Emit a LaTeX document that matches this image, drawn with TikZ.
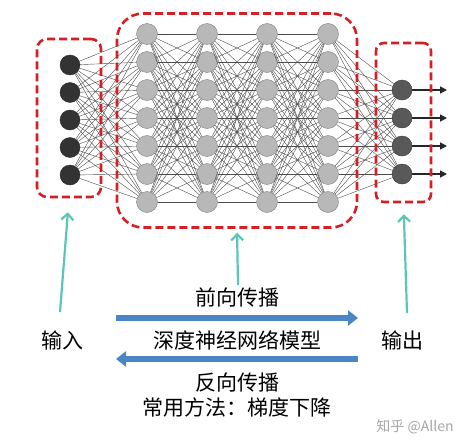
\documentclass[tikz,border=0pt]{standalone}
\usepackage{fontspec}
\newfontfamily\cjk{Noto Sans CJK SC}
\usetikzlibrary{arrows.meta}
\definecolor{boxred}{RGB}{212,32,36}
\definecolor{pointteal}{RGB}{92,198,182}
\definecolor{flowblue}{RGB}{74,134,198}
\begin{document}
\begin{tikzpicture}[x=1pt,y=-1pt,
  inneuron/.style={circle,draw=black!85,fill=black!80,minimum size=20pt,inner sep=0pt},
  hidneuron/.style={circle,draw=black!50,fill=black!28,minimum size=21pt,inner sep=0pt},
  outneuron/.style={circle,draw=black!80,fill=black!65,minimum size=20pt,inner sep=0pt},
  link/.style={black!70,line width=0.4pt},
  group/.style={draw=boxred,line width=2.6pt,dash pattern=on 8pt off 4pt,inner sep=0pt},
  pointer/.style={pointteal,line width=2.2pt,-{Straight Barb[length=6pt,width=12pt]}},
  flow/.style={flowblue,line width=6.5pt,-{Triangle[length=10pt,width=15pt]}},
  outflow/.style={black!85,line width=1.4pt,-{Triangle[length=7pt,width=7pt]}},
  label/.style={font=\cjk\fontsize{21}{25}\selectfont,inner sep=0pt}
]
\useasboundingbox (0,0) rectangle (465,447);
% neurons
\foreach \i in {1,...,5}
  \node[inneuron] (in\i) at (70,{65+27.5*(\i-1)}) {};
\foreach \l/\x in {A/147,B/207,C/267,D/328}
  \foreach \i in {1,...,7}
    \node[hidneuron] (h\l\i) at (\x,{34+28*(\i-1)}) {};
\foreach \i in {1,...,4}
  \node[outneuron] (out\i) at (402,{90+28*(\i-1)}) {};
% links
\foreach \i in {1,...,5}
  \foreach \j in {1,...,7}
    \draw[link] (in\i) -- (hA\j);
\foreach \a/\b in {A/B,B/C,C/D}
  \foreach \i in {1,...,7}
    \foreach \j in {1,...,7}
      \draw[link] (h\a\i) -- (h\b\j);
\foreach \i in {1,...,7}
  \foreach \j in {1,...,4}
    \draw[link] (hD\i) -- (out\j);
% outputs
\foreach \i in {1,...,4} {
  \coordinate (end\i) at (447,{90+28*(\i-1)});
  \draw[outflow] (out\i) -- (end\i);
}
% groups
\node[group,rounded corners=10pt,minimum width=64pt,minimum height=158pt] (inbox) at (69,118) {};
\node[group,rounded corners=26pt,minimum width=240pt,minimum height=214pt] (hidbox) at (237,120.5) {};
\node[group,rounded corners=8pt,minimum width=55pt,minimum height=159pt] (outbox) at (403.5,122.5) {};
% labels
\node[label] (inlabel) at (62,340) {输入};
\node[label] (outlabel) at (402,340) {输出};
\node[label] (fwdlabel) at (237,297) {前向传播};
\node[label] (model) at (237,340) {深度神经网络模型};
\node[label] (bwdlabel) at (237,383) {反向传播};
\node[label] (method) at (237,408) {常用方法：梯度下降};
\node[font=\cjk\fontsize{14}{16}\selectfont,text=black!35,inner sep=0pt] (mark) at (415,427) {知乎 @Allen};
% pointers
\coordinate (intail) at (60,312);
\coordinate (hidtail) at (238,285);
\coordinate (outtail) at (407,313);
\draw[pointer,shorten >=14pt] (intail) -- (inbox.south);
\draw[pointer,shorten >=4pt] (hidtail) -- (hidbox.south);
\draw[pointer,shorten >=11pt] (outtail) -- (outbox.south);
% flows
\coordinate (fwdL) at (116,318);
\coordinate (fwdR) at (358,318);
\coordinate (bwdL) at (116,359);
\coordinate (bwdR) at (358,359);
\draw[flow] (fwdL) -- (fwdR);
\draw[flow] (bwdR) -- (bwdL);
\end{tikzpicture}
\end{document}
